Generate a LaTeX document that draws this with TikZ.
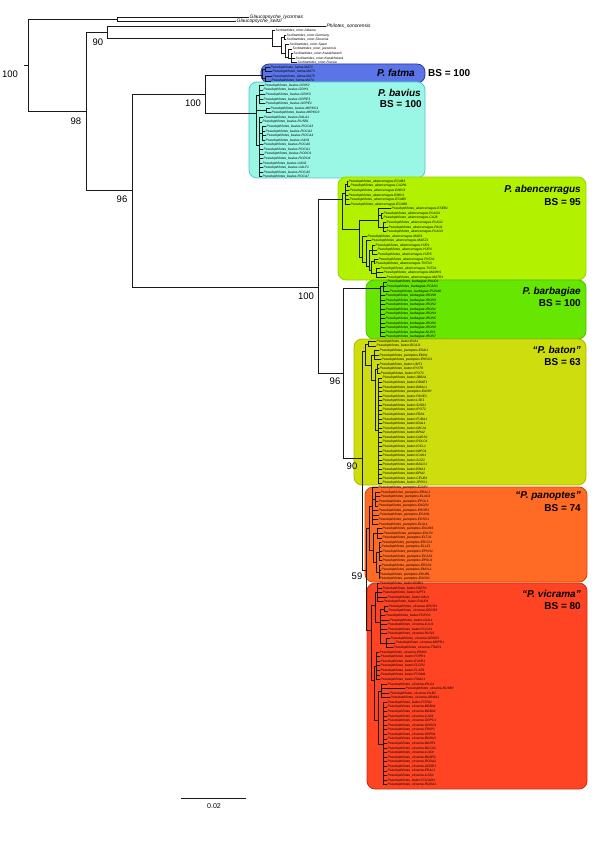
\documentclass[tikz,border=0pt]{standalone}
\usepackage{fontspec}
\setmainfont{Liberation Sans}
\definecolor{treeline}{HTML}{1A1A1A}
\definecolor{fatmafill}{HTML}{5B74E8}
\definecolor{fatmaline}{HTML}{2B3BA8}
\definecolor{baviusfill}{HTML}{9AF7E6}
\definecolor{baviusline}{HTML}{52C4D8}
\definecolor{abenfill}{HTML}{B2F200}
\definecolor{abenline}{HTML}{98D400}
\definecolor{barbfill}{HTML}{66E600}
\definecolor{barbline}{HTML}{4CC000}
\definecolor{batonfill}{HTML}{CEDD0E}
\definecolor{batonline}{HTML}{AAB800}
\definecolor{panfill}{HTML}{FF6B24}
\definecolor{panline}{HTML}{CC4A10}
\definecolor{vicfill}{HTML}{FF4424}
\definecolor{vicline}{HTML}{C8300E}
\begin{document}
\begin{tikzpicture}[x=1pt,y=-1pt]
\tikzset{
  branch/.style={draw=treeline,line width=0.95pt},
  leaf/.style={anchor=west,inner sep=0.5pt,font=\fontsize{3.3}{3.6}\selectfont\itshape},
  bigleaf/.style={leaf,font=\fontsize{4.9}{5.2}\selectfont\itshape},
  support/.style={inner sep=0pt,font=\fontsize{9.5}{10}\selectfont},
  cladebox/.style={rounded corners=8pt,line width=0.8pt},
  cladename/.style={anchor=east,inner sep=0pt,font=\fontsize{10}{11}\selectfont\bfseries\itshape},
  cladebs/.style={anchor=east,inner sep=0pt,font=\fontsize{10}{11}\selectfont\bfseries}
}
\useasboundingbox (0,0) rectangle (595,842);
\path[cladebox,fill=fatmafill,draw=fatmaline] (261,64) rectangle (425,83);
\path[cladebox,fill=baviusfill,draw=baviusline] (249,82) rectangle (425,178);
\path[cladebox,fill=abenfill,draw=abenline] (338,177) rectangle (586,280);
\path[cladebox,fill=barbfill,draw=barbline] (366,280) rectangle (586,339);
\path[cladebox,fill=batonfill,draw=batonline] (354,339) rectangle (586,485);
\path[cladebox,fill=panfill,draw=panline] (365,487) rectangle (587,582);
\path[cladebox,fill=vicfill,draw=vicline] (367,583) rectangle (587,789);
\coordinate (n_rootstub) at (24,65);
\coordinate (n_root) at (28,65);
\coordinate (n_glau) at (117.5,19.3);
\coordinate (n_98) at (86,111);
\coordinate (n_90) at (107,32);
\coordinate (n_sco) at (272,38);
\coordinate (n_sc2) at (281,46);
\coordinate (n_sc3) at (284,37.6);
\coordinate (n_sc4) at (285,53);
\coordinate (n_sc5) at (288,57);
\coordinate (n_sc6) at (291,58);
\coordinate (n_96) at (132,190);
\coordinate (n_100fb) at (205,94);
\coordinate (n_fat) at (262,75);
\coordinate (n_fat1) at (265,69.6);
\coordinate (n_fat2) at (265,78.7);
\coordinate (n_bav) at (256,113);
\coordinate (n_bavG) at (259,95);
\coordinate (n_bavM) at (266,110.7);
\coordinate (n_bavR) at (259,145);
\coordinate (n_bavR1) at (262,133);
\coordinate (n_100) at (318,287);
\coordinate (n_ab) at (342,199);
\coordinate (n_abA) at (345,193);
\coordinate (n_abA1) at (347,184);
\coordinate (n_abB) at (359,229);
\coordinate (n_abB1) at (378,220);
\coordinate (n_abB2) at (381,215.8);
\coordinate (n_abB3) at (383,227.2);
\coordinate (n_abC) at (362,257);
\coordinate (n_abC1) at (366,262);
\coordinate (n_abC2) at (369,266);
\coordinate (n_abC3) at (372,250);
\coordinate (n_abC4) at (371,270);
\coordinate (n_abC5) at (374,261.5);
\coordinate (n_abC6) at (376,273);
\coordinate (n_96b) at (343,373);
\coordinate (n_bar) at (380,288);
\coordinate (n_barA) at (383,286);
\coordinate (n_90b) at (362,458);
\coordinate (n_bat) at (365,351);
\coordinate (n_batA) at (368,344);
\coordinate (n_batB) at (371,365);
\coordinate (n_batB1) at (374,355);
\coordinate (n_batC) at (375,380);
\coordinate (n_batC1) at (377,369);
\coordinate (n_batD) at (378,430);
\coordinate (n_59) at (366,570);
\coordinate (n_pan) at (369,528);
\coordinate (n_panA) at (372,506);
\coordinate (n_panA1) at (375,499);
\coordinate (n_panB) at (373,550);
\coordinate (n_panB1) at (377,533);
\coordinate (n_panB2) at (376,562);
\coordinate (n_panB3) at (379,552);
\coordinate (n_panB4) at (379,572);
\coordinate (n_vic) at (371,630);
\coordinate (n_vicA) at (375,605);
\coordinate (n_vicA1) at (377,592);
\coordinate (n_vicA2) at (380,622);
\coordinate (n_vicA3) at (384,609);
\coordinate (n_vicA4) at (386,643);
\coordinate (n_vicB) at (374,680);
\coordinate (n_vicB1) at (376,666);
\coordinate (n_vicB2) at (378,720);
\coordinate (n_vicB3) at (381,691);
\coordinate (n_vicB4) at (383,744);
\draw[branch] (n_rootstub) -- (n_root);
\foreach \p/\c in {n_root/n_glau,n_root/n_98,n_98/n_90,n_98/n_96,n_90/n_sco,n_sco/n_sc2,n_sc2/n_sc3,n_sc2/n_sc4,
  n_sc4/n_sc5,n_sc5/n_sc6,n_96/n_100fb,n_96/n_100,n_100fb/n_fat,n_100fb/n_bav,n_fat/n_fat1,n_fat/n_fat2,
  n_bav/n_bavG,n_bav/n_bavM,n_bav/n_bavR,n_bavR/n_bavR1,n_100/n_ab,n_100/n_96b,n_ab/n_abA,n_abA/n_abA1,
  n_ab/n_abB,n_abB/n_abB1,n_abB1/n_abB2,n_abB1/n_abB3,n_abB/n_abC,n_abC/n_abC1,n_abC1/n_abC2,n_abC2/n_abC3,
  n_abC2/n_abC4,n_abC4/n_abC5,n_abC4/n_abC6,n_96b/n_bar,n_bar/n_barA,n_96b/n_90b,n_90b/n_bat,n_bat/n_batA,
  n_bat/n_batB,n_batB/n_batB1,n_batB/n_batC,n_batC/n_batC1,n_batC/n_batD,n_90b/n_59,n_59/n_pan,n_pan/n_panA,
  n_panA/n_panA1,n_pan/n_panB,n_panB/n_panB1,n_panB/n_panB2,n_panB2/n_panB3,n_panB2/n_panB4,n_59/n_vic,
  n_vic/n_vicA,n_vicA/n_vicA1,n_vicA/n_vicA2,n_vicA2/n_vicA3,n_vicA2/n_vicA4,n_vic/n_vicB,n_vicB/n_vicB1,
  n_vicB/n_vicB2,n_vicB2/n_vicB3,n_vicB2/n_vicB4}
  \draw[branch] (\p) |- (\c);
\foreach \i/\p/\tx/\t in {0/n_glau/249/Glaucopsyche\_lycormas,1/n_glau/236/Glaucopsyche\_seitzi,
  2/n_90/326/Philotes\_sonorensis}{
  \node[bigleaf] (l_\i) at (\tx,{17+4.57*\i}) {\t};
  \draw[branch] (\p) |- (l_\i.west);
}
\foreach \i/\p/\tx/\t in {3/n_sco/275/Scolitantides\_orion-Albania,4/n_sc3/286/Scolitantides\_orion-Germany,
  5/n_sc3/286/Scolitantides\_orion-Slovenia,6/n_sc4/289/Scolitantides\_orion-Spain,
  7/n_sc5/292/Scolitantides\_orion\_jezoensis,8/n_sc6/293/Scolitantides\_orion-Kazakhstan3,
  9/n_sc6/295/Scolitantides\_orion-Kazakhstan1,10/n_sc6/297/Scolitantides\_orion-Russia}{
  \node[leaf] (l_\i) at (\tx,{17+4.57*\i}) {\t};
  \draw[branch] (\p) |- (l_\i.west);
}
\foreach \i/\p/\tx/\t in {11/n_fat1/270/fatma-MAT1,12/n_fat1/272/fatma-MAT3,13/n_fat2/272/fatma-MAT5,14/n_fat2/271/fatma-MAT4,
  15/n_bavG/264/bavius-GRIK2,16/n_bavG/263/bavius-GRIK1,17/n_bavG/265/bavius-GRIK3,18/n_bavG/263/bavius-GRRE3,
  19/n_bavG/265/bavius-GRPE1,20/n_bavM/270/bavius-MIRKO1,21/n_bavM/271/bavius-MIRKO3,22/n_bavR/263/bavius-DALA1,
  23/n_bavR/262/bavius-RUSB1,24/n_bavR1/266/bavius-ROCA3,25/n_bavR1/265/bavius-ROCA2,26/n_bavR1/266/bavius-ROCA4,
  27/n_bavR1/265/bavius-UAN1,28/n_bavR/263/bavius-ROCA6,29/n_bavR/263/bavius-ROCA1,30/n_bavR/264/bavius-RODO1,
  31/n_bavR/263/bavius-RODO4,32/n_bavR/262/bavius-UAN2,33/n_bavR/263/bavius-UALF1,34/n_bavR/263/bavius-ROCA5,
  35/n_bavR/262/bavius-ROCA7,
  36/n_abA1/348/abencerragus-ECAB3,37/n_abA1/350/abencerragus-CAJH1,38/n_abA/349/abencerragus-EMIV3,
  39/n_abA/348/abencerragus-EMIV1,40/n_abA/349/abencerragus-ECAB5,41/n_abA/350/abencerragus-ECAB8,
  42/n_abB1/391/abencerragus-ESEB1,43/n_abB2/383/abencerragus-PLAG4,44/n_abB2/383/abencerragus-CAJ8,
  45/n_abB3/386/abencerragus-PLAG1,46/n_abB3/388/abencerragus-PAU1,47/n_abB3/386/abencerragus-PLAG3,
  48/n_abC/367/abencerragus-MAB1,49/n_abC1/371/abencerragus-MAEZ1,50/n_abC3/375/abencerragus-HJR1,
  51/n_abC3/377/abencerragus-HJR3,52/n_abC3/377/abencerragus-HJR5,53/n_abC5/378/abencerragus-FNTA1,
  54/n_abC5/375/abencerragus-TNTA3,55/n_abC6/380/abencerragus-TNTA1,56/n_abC6/383/abencerragus-MAMH1,
  57/n_abC6/386/abencerragus-MATR1,
  58/n_barA/387/barbagiae-PAUD1,59/n_barA/386/barbagiae-PCAN1,60/n_barA/389/barbagiae-PONA8,
  61/n_bar/385/barbagiae-IRON8,62/n_bar/385/barbagiae-IRON3,63/n_bar/385/barbagiae-IRON2,64/n_bar/385/barbagiae-IRON1,
  65/n_bar/385/barbagiae-IRON4,66/n_bar/385/barbagiae-IRON5,67/n_bar/385/barbagiae-IRON6,68/n_bar/385/barbagiae-IRON9,
  69/n_bar/385/barbagiae-NUD3,70/n_bar/385/barbagiae-IRON7,
  71/n_batA/376/baton-BJA1,72/n_batA/376/baton-BCAJ1,73/n_batB1/379/panoptes-ESAI1,74/n_batB1/379/panoptes-EMA1,
  75/n_batB1/381/panoptes-EHGO1,76/n_batC1/379/baton-UMT1,77/n_batC1/379/baton-IPOT8,78/n_batC1/380/baton-IPOT1,
  79/n_batD/382/baton-JBBA1,80/n_batD/382/baton-DDAE1,81/n_batD/382/baton-BMAL1,82/n_batD/382/panoptes-EAVIH,
  83/n_batD/382/baton-FANE1,84/n_batD/382/baton-LSE1,85/n_batD/382/baton-SUDI1,86/n_batD/382/baton-IPOT2,
  87/n_batD/382/baton-FBA1,88/n_batD/382/baton-FUBA1,89/n_batD/382/baton-IDAL1,90/n_batD/382/baton-IMCA1,
  91/n_batD/382/baton-BRA2,92/n_batD/382/baton-GARS1,93/n_batD/382/baton-ROLO1,94/n_batD/382/baton-IOCL1,
  95/n_batD/382/baton-IMPO1,96/n_batD/382/baton-ICAN1,97/n_batD/382/baton-SUZ1,98/n_batD/382/baton-BALO1,
  99/n_batD/382/baton-EMA1,100/n_batD/382/baton-BRA1,101/n_batD/382/baton-CEUB1,102/n_batD/382/baton-JPRO1,
  103/n_panA/378/panoptes-EJAP1,104/n_panA1/380/panoptes-ERAL1,105/n_panA1/380/panoptes-ELAG1,
  106/n_panA1/378/panoptes-EPOL1,107/n_panA1/378/panoptes-EAGR1,108/n_panA/378/panoptes-EHOR1,
  109/n_panA/379/panoptes-ECAN1,110/n_panA/378/panoptes-EOSO1,111/n_panA/378/panoptes-ELAL1,
  112/n_panB1/382/panoptes-EAOM3,113/n_panB1/383/panoptes-EALP1,114/n_panB1/382/panoptes-ELTU1,
  115/n_panB3/381/panoptes-ERCO1,116/n_panB3/381/panoptes-ELLZ1,117/n_panB3/382/panoptes-EPHO1,
  118/n_panB3/382/panoptes-ECAS1,119/n_panB3/382/panoptes-EPSU1,120/n_panB4/381/panoptes-ERSA1,
  121/n_panB4/381/panoptes-EMUL1,122/n_panB4/379/panoptes-EHUB1,123/n_panB4/379/panoptes-EAON1,
  124/n_vicA1/379/baton-BGBI1,125/n_vicA1/382/baton-FAER1,126/n_vicA1/382/baton-SIPT1,127/n_vicA1/387/baton-IMU1,
  128/n_vicA1/383/baton-RAUD1,129/n_vicA3/388/vicrama-GRCR1,130/n_vicA3/388/vicrama-GRCR3,131/n_vicA2/385/baton-FGPO1,
  132/n_vicA2/389/baton-IGAL1,133/n_vicA2/387/vicrama-ILLU1,134/n_vicA2/387/baton-FOCA1,135/n_vicA2/387/vicrama-RUSI1,
  136/n_vicA4/390/vicrama-GRDR1,137/n_vicA4/395/vicrama-MKPR1,138/n_vicA4/393/vicrama-TRAR1,
  139/n_vicB1/379/vicrama-IRMA1,140/n_vicB1/380/baton-FOPR1,141/n_vicB1/380/baton-EVAR1,142/n_vicB1/380/baton-FLCR1,
  143/n_vicB1/380/baton-FLAR1,144/n_vicB1/380/baton-FOMA1,145/n_vicB1/380/baton-FMA21,
  146/n_vicB3/387/vicrama-IRLO1,147/n_vicB3/405/vicrama-RUSBY,148/n_vicB3/389/vicrama-IULB1,149/n_vicB3/390/vicrama-ARMA1,
  150/n_vicB4/387/baton-FOPA1,151/n_vicB4/387/vicrama-BGBA1,152/n_vicB4/387/vicrama-BGBA2,153/n_vicB4/387/vicrama-ILAS1,
  154/n_vicB4/387/vicrama-GRPC1,155/n_vicB4/387/vicrama-GRDO1,156/n_vicB4/387/vicrama-FPAP1,157/n_vicB4/387/vicrama-GRPA1,
  158/n_vicB4/387/vicrama-BGBA3,159/n_vicB4/387/vicrama-BGPE1,160/n_vicB4/387/vicrama-BGCA1,161/n_vicB4/387/vicrama-ILAS4,
  162/n_vicB4/387/vicrama-BGBR1,163/n_vicB4/387/vicrama-RODA2,164/n_vicB4/387/vicrama-GRDE1,165/n_vicB4/387/vicrama-ERAL1,
  166/n_vicB4/387/vicrama-ILAS2,167/n_vicB4/387/baton-FOCAM1,168/n_vicB4/387/vicrama-RODA1}{
  \node[leaf] (l_\i) at (\tx,{17+4.57*\i}) {Pseudophilotes\_\t};
  \draw[branch] (\p) |- (l_\i.west);
}
\node[support] (s_root) at (10,74) {100};
\node[support] (s_90) at (98,42) {90};
\node[support] (s_98) at (76,121) {98};
\node[support] (s_96) at (122,199) {96};
\node[support] (s_100fb) at (193,103) {100};
\node[support] (s_100) at (306,296) {100};
\node[support] (s_96b) at (335,381) {96};
\node[support] (s_90b) at (352,466) {90};
\node[support] (s_59) at (357,576) {59};
\node[cladename] (c_fatma) at (415,73) {P. fatma};
\node[cladebs,anchor=west] (b_fatma) at (428,73) {BS = 100};
\node[cladename] (c_bavius) at (421,93) {P. bavius};
\node[cladebs] (b_bavius) at (422,104) {BS = 100};
\node[cladename] (c_aben) at (581,190) {P. abencerragus};
\node[cladebs] (b_aben) at (581,202) {BS = 95};
\node[cladename] (c_barb) at (581,292) {P. barbagiae};
\node[cladebs] (b_barb) at (581,303) {BS = 100};
\node[cladename] (c_baton) at (581,350) {“P. baton”};
\node[cladebs] (b_baton) at (581,362) {BS = 63};
\node[cladename] (c_pan) at (581,496) {“P. panoptes”};
\node[cladebs] (b_pan) at (581,508) {BS = 74};
\node[cladename] (c_vic) at (581,594) {“P. vicrama”};
\node[cladebs] (b_vic) at (581,606) {BS = 80};
\coordinate (sb_l) at (181,798);
\coordinate (sb_r) at (246,798);
\draw[branch] (sb_l) -- (sb_r);
\node[support,font=\fontsize{7}{8}\selectfont] (sb_t) at (214,806) {0.02};
\end{tikzpicture}
\end{document}
